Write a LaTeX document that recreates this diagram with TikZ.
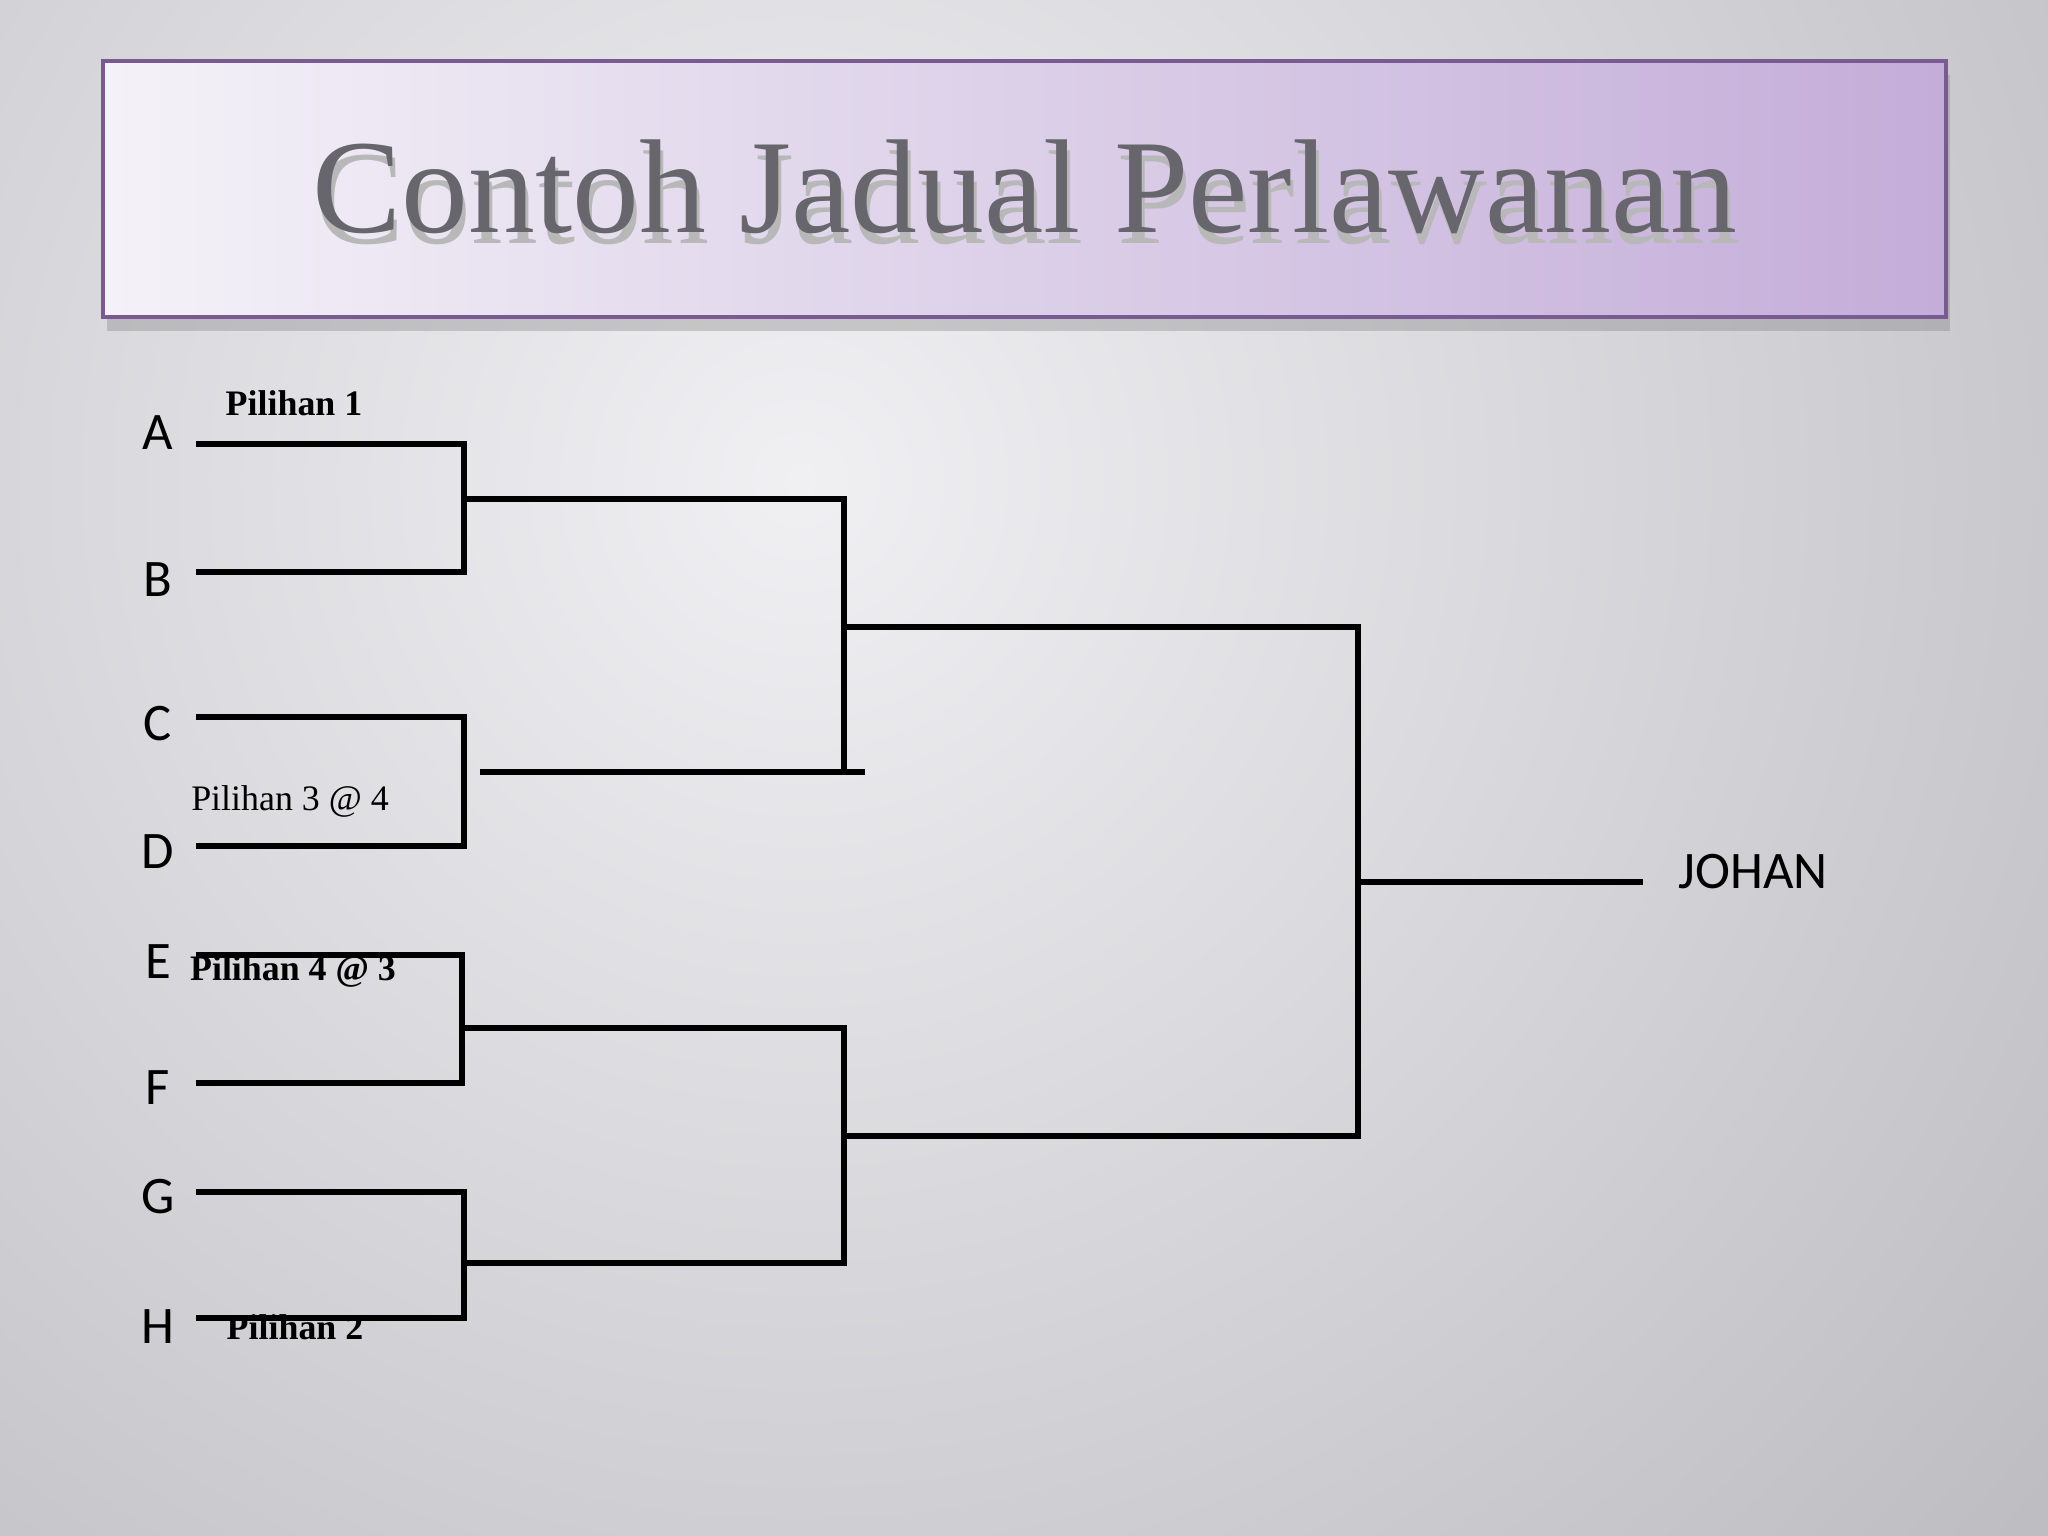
\documentclass[tikz,border=0pt]{standalone}
\usepackage{fontspec}
\setmainfont{Liberation Serif}
\newfontfamily\teamfont{Carlito}
\usetikzlibrary{shadows}

\definecolor{bglight}{HTML}{F0F0F3}
\definecolor{bgdark}{HTML}{A8A8AD}
\definecolor{boxleft}{HTML}{F4F2F8}
\definecolor{boxmid}{HTML}{E4D8EA}
\definecolor{boxright}{HTML}{C4ADD9}
\definecolor{boxline}{HTML}{7A5A92}
\definecolor{titlegrey}{HTML}{66666C}

\tikzset{
  bracket/.style={line width=1.8pt, black, line cap=rect},
  team/.style={anchor=base, inner sep=0pt, font=\teamfont\fontsize{15}{18}\selectfont},
  pilihan/.style={anchor=base, inner sep=0pt, font=\fontsize{10.2}{12}\selectfont\bfseries},
}

% title text with its shadow in one box
\newcommand{\shadowtitle}[1]{%
  \makebox[0pt][l]{\hspace{0.8pt}\raisebox{-3.2pt}{\textcolor{black!28!white}{#1}}}%
  \textcolor{titlegrey}{#1}}

\begin{document}
\begin{tikzpicture}[x=0.01cm, y=-0.01cm]
\useasboundingbox (0,0) rectangle (2048,1536);

% background
\fill[bgdark] (0,0) rectangle (2048,1536);
\begin{scope}
\clip (0,0) rectangle (2048,1536);
\shade[inner color=bglight, outer color=bgdark] (800,480) circle (2300);
\end{scope}

% title box
\shade[left color=boxleft, middle color=boxmid, right color=boxright,
  draw=boxline, line width=1.2pt,
  drop shadow={shadow xshift=1pt, shadow yshift=-4pt, opacity=0.35}]
  (103,61) rectangle (1946,317);
\node[anchor=base, inner sep=0pt, font=\fontsize{38}{46}\selectfont]
  (title) at (1025,232) {\shadowtitle{Contoh Jadual Perlawanan}};

% teams
\node[team] (A) at (158,449) {A};
\node[team] (B) at (158,596) {B};
\node[team] (C) at (158,740) {C};
\node[team] (D) at (158,868) {D};
\node[team] (E) at (158,978) {E};
\node[team] (F) at (158,1104) {F};
\node[team] (G) at (158,1213) {G};
\node[team] (H) at (158,1343) {H};
\node[team] (johan) at (1753,888) {JOHAN};

% line starts
\coordinate (sA) at (199,444);
\coordinate (sB) at (199,572);
\coordinate (sC) at (199,717);
\coordinate (sD) at (199,846);
\coordinate (sE) at (199,955);
\coordinate (sF) at (199,1083);
\coordinate (sG) at (199,1192);
\coordinate (sH) at (199,1318);

% joints
\coordinate (jAB) at (464,499);
\coordinate (jCD) at (464,781);
\coordinate (jEF) at (462,1028);
\coordinate (jGH) at (464,1263);
\coordinate (cdOut) at (483,772);
\coordinate (cdEnd) at (862,772);
\coordinate (jTop) at (844,627);
\coordinate (jBot) at (844,1136);
\coordinate (jFin) at (1358,882);
\coordinate (champ) at (1640,882);

% first round
\draw[bracket] (sA) -| (jAB) |- (sB);
\draw[bracket] (sC) -| (jCD) |- (sD);
\draw[bracket] (sE) -| (jEF) |- (sF);
\draw[bracket] (sG) -| (jGH) |- (sH);

% second round
\draw[bracket] (cdOut) -- (cdEnd);
\draw[bracket] (jAB) -| (jTop) -- (jTop |- cdEnd);
\draw[bracket] (jEF) -| (jBot) |- (jGH);

% final
\draw[bracket] (jTop) -| (jFin) |- (jBot);
\draw[bracket] (jFin) -- (champ);

% seeds
\node[pilihan] (p1) at (294,415) {Pilihan 1};
\node[pilihan, font=\fontsize{10.2}{12}\selectfont] (p3) at (290,810) {Pilihan 3 @ 4};
\node[pilihan] (p4) at (293,980) {Pilihan 4 @ 3};
\node[pilihan] (p2) at (295,1339) {Pilihan 2};

\end{tikzpicture}
\end{document}
